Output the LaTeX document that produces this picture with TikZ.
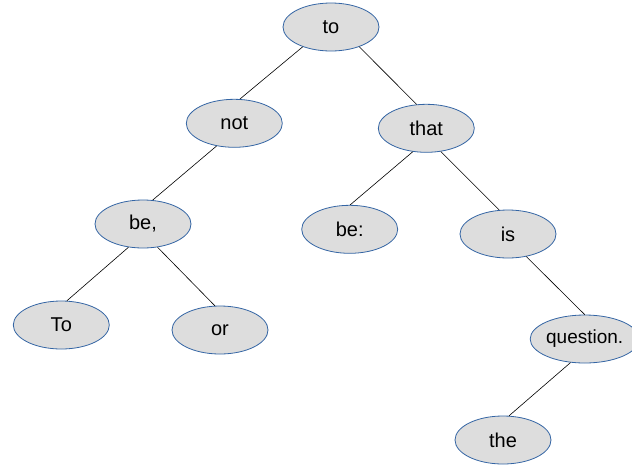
\documentclass[tikz,border=0pt]{standalone}
\usepackage{fontspec}
\setmainfont{Liberation Sans}
\usepackage{xcolor}
\usepackage{tikz}
\usetikzlibrary{shapes.geometric}

\definecolor{nodefill}{HTML}{DDDDDD}
\definecolor{nodeline}{HTML}{3465A4}

\begin{document}
\begin{tikzpicture}[x=1pt, y=-1pt,
            word/.style={draw=nodeline, fill=nodefill, ellipse, line width=.8pt, inner sep=0pt,
                 minimum width=96pt, minimum height=48pt, align=center,
                 font=\fontsize{20}{24}\selectfont},
            edge/.style={draw=black, line width=.6pt}
            ]
            \useasboundingbox (0,0) rectangle (632,472);

            % Nodes with manual coordinates
            \node[word] (to) at (331,27) {to};
            \node[word] (not) at (234.3,123.3) {not};
            \node[word] (that) at (426.3,128.3) {that};
            \node[word] (bea) at (143,224) {be,};
            \node[word] (beb) at (349.7,229.3) {be:};
            \node[word] (is) at (508,234) {is};
            \node[word] (capto) at (61.3,325) {To};
            \node[word] (or) at (220,330) {or};
            \node[word][font=\fontsize{19}{23}\selectfont] (quest) at (584.7,339) {question.};
            \node[word] (the) at (503,440) {the};

            % Edges
            \draw[edge] (to.215) -- (not.77);
            \draw[edge] (to.-35) -- (that.112);
            \draw[edge] (not.232) -- (bea.68);
            \draw[edge] (bea.238) -- (capto.77);
            \draw[edge] (bea.-58) -- (or.102);
            \draw[edge] (that.240) -- (beb.89);
            \draw[edge] (that.-58) -- (is.110);
            \draw[edge] (is.-51) -- (quest.90);
            \draw[edge] (quest.239) -- (the.76);
        \end{tikzpicture}
\end{document}
